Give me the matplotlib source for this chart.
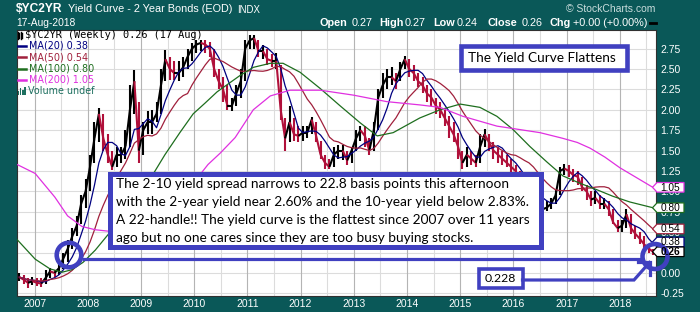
import numpy as np
import pandas as pd
import matplotlib
matplotlib.use("Agg")
import matplotlib.pyplot as plt
from matplotlib.collections import LineCollection
from matplotlib.patches import Rectangle, Circle, Polygon
from matplotlib.lines import Line2D

# ---------------- data ----------------
first_month = "2006-09"
yc2yr_close = [
    -0.05, -0.08, -0.12, -0.10,                                                   # 2006 Sep-Dec
    -0.12, -0.13, -0.06, 0.02, 0.00, 0.06, 0.18, 0.30, 0.45, 0.58, 0.85, 1.00,    # 2007
    1.30, 1.65, 1.95, 1.65, 1.45, 1.30, 1.45, 1.45, 1.55, 2.00, 2.35, 1.50,       # 2008
    1.75, 1.85, 1.85, 1.95, 2.30, 2.62, 2.50, 2.45, 2.45, 2.52, 2.65, 2.75,       # 2009
    2.80, 2.82, 2.80, 2.75, 2.50, 2.35, 2.25, 2.05, 2.05, 2.20, 2.35, 2.75,       # 2010
    2.85, 2.88, 2.72, 2.72, 2.62, 2.60, 2.60, 2.00, 1.65, 1.85, 1.70, 1.68,       # 2011
    1.72, 1.72, 1.88, 1.68, 1.45, 1.35, 1.30, 1.45, 1.50, 1.50, 1.38, 1.50,       # 2012
    1.65, 1.75, 1.68, 1.50, 1.75, 2.15, 2.30, 2.40, 2.40, 2.35, 2.50, 2.62,       # 2013
    2.50, 2.45, 2.35, 2.30, 2.20, 2.15, 2.05, 2.00, 1.90, 1.80, 1.70, 1.55,       # 2014
    1.35, 1.45, 1.40, 1.35, 1.55, 1.70, 1.60, 1.50, 1.45, 1.40, 1.35, 1.30,       # 2015
    1.25, 1.10, 1.00, 1.00, 0.95, 0.90, 0.78, 0.80, 0.85, 0.95, 1.25, 1.28,       # 2016
    1.25, 1.20, 1.18, 1.05, 1.00, 0.90, 0.92, 0.85, 0.85, 0.78, 0.62, 0.55,       # 2017
    0.58, 0.72, 0.55, 0.48, 0.42, 0.35, 0.30, 0.26,                               # 2018 Jan-Aug
]
yc2yr_high = [
    0.00, -0.03, -0.06, -0.05,
    -0.06, -0.06, 0.04, 0.06, 0.04, 0.15, 0.25, 0.40, 0.55, 0.70, 0.95, 1.15,
    1.45, 1.85, 2.02, 1.95, 1.70, 1.50, 1.55, 1.55, 1.75, 2.30, 2.49, 2.10,
    1.85, 1.98, 2.00, 2.10, 2.50, 2.73, 2.65, 2.60, 2.60, 2.65, 2.75, 2.82,
    2.85, 2.85, 2.85, 2.83, 2.75, 2.50, 2.40, 2.30, 2.15, 2.30, 2.50, 2.85,
    2.92, 2.92, 2.85, 2.80, 2.75, 2.68, 2.70, 2.55, 1.90, 2.05, 1.90, 1.80,
    1.80, 1.80, 1.91, 1.85, 1.62, 1.45, 1.40, 1.55, 1.57, 1.57, 1.50, 1.55,
    1.75, 1.80, 1.80, 1.65, 1.85, 2.25, 2.45, 2.50, 2.52, 2.45, 2.58, 2.66,
    2.62, 2.55, 2.45, 2.40, 2.30, 2.25, 2.15, 2.10, 2.00, 1.92, 1.85, 1.72,
    1.50, 1.55, 1.50, 1.45, 1.70, 1.76, 1.70, 1.60, 1.55, 1.50, 1.45, 1.40,
    1.32, 1.25, 1.08, 1.10, 1.02, 1.00, 0.88, 0.88, 0.92, 1.02, 1.30, 1.33,
    1.32, 1.28, 1.25, 1.18, 1.08, 1.00, 1.00, 0.95, 0.92, 0.88, 0.78, 0.65,
    0.65, 0.78, 0.72, 0.58, 0.50, 0.45, 0.36, 0.30,
]
yc2yr_low = [
    -0.10, -0.14, -0.18, -0.15,
    -0.16, -0.17, -0.14, -0.06, -0.05, -0.02, 0.05, 0.14, 0.30, 0.45, 0.60, 0.80,
    1.00, 1.35, 1.60, 1.50, 1.35, 1.26, 1.30, 1.35, 1.40, 1.55, 1.95, 1.35,
    1.45, 1.70, 1.70, 1.85, 1.95, 2.35, 2.36, 2.36, 2.35, 2.40, 2.50, 2.60,
    2.70, 2.72, 2.70, 2.65, 2.40, 2.25, 2.10, 2.00, 1.98, 2.05, 2.15, 2.35,
    2.75, 2.75, 2.65, 2.62, 2.55, 2.52, 2.50, 1.88, 1.50, 1.60, 1.62, 1.60,
    1.62, 1.65, 1.70, 1.60, 1.40, 1.28, 1.27, 1.30, 1.40, 1.38, 1.32, 1.35,
    1.50, 1.62, 1.55, 1.45, 1.50, 1.75, 2.15, 2.25, 2.30, 2.25, 2.35, 2.50,
    2.40, 2.35, 2.28, 2.20, 2.10, 2.05, 1.95, 1.90, 1.80, 1.65, 1.60, 1.40,
    1.28, 1.30, 1.32, 1.30, 1.35, 1.55, 1.50, 1.40, 1.35, 1.32, 1.30, 1.22,
    1.15, 0.98, 0.92, 0.94, 0.88, 0.80, 0.75, 0.76, 0.78, 0.85, 0.95, 1.20,
    1.18, 1.12, 1.08, 1.00, 0.90, 0.82, 0.85, 0.78, 0.78, 0.70, 0.60, 0.50,
    0.50, 0.55, 0.48, 0.42, 0.35, 0.30, 0.24, 0.22,
]

ma100_time = [2006.67, 2007.01, 2007.29, 2007.52, 2007.70, 2007.91, 2008.14, 2008.38,
              2008.61, 2008.89, 2009.17, 2009.45, 2009.73, 2009.98, 2010.20, 2010.43,
              2010.86, 2011.11, 2011.43, 2011.67, 2011.99, 2012.37, 2012.74, 2013.12,
              2013.44, 2013.74, 2014.24, 2014.62, 2015.00, 2015.37, 2015.69, 2015.99,
              2016.31, 2016.63, 2016.93, 2017.25, 2017.57, 2017.87, 2018.19, 2018.62]
ma100_value = [0.41, 0.17, 0.05, 0.01, 0.04, 0.13, 0.28, 0.47,
               0.66, 0.90, 1.15, 1.45, 1.72, 1.95, 2.08, 2.22,
               2.42, 2.52, 2.57, 2.57, 2.46, 2.26, 2.05, 1.84,
               1.68, 1.72, 1.90, 2.00, 2.07, 2.03, 1.92, 1.76,
               1.55, 1.36, 1.19, 1.10, 1.02, 0.94, 0.87, 0.80]

ma200_time = [2006.67, 2007.01, 2007.38, 2007.62, 2007.89, 2008.14, 2008.42, 2008.79,
              2009.17, 2009.55, 2009.92, 2010.26, 2010.49, 2010.77, 2011.11, 2011.43,
              2011.80, 2012.37, 2012.99, 2013.62, 2014.24, 2014.62, 2015.05, 2015.69,
              2016.50, 2016.93, 2017.20, 2017.44, 2017.72, 2018.00, 2018.62]
ma200_value = [1.33, 1.22, 0.93, 0.70, 0.57, 0.53, 0.51, 0.53,
               0.62, 0.82, 1.05, 1.33, 1.47, 1.66, 2.00, 2.17,
               2.24, 2.24, 2.18, 2.10, 2.06, 2.03, 1.92, 1.80,
               1.72, 1.65, 1.60, 1.53, 1.42, 1.29, 1.05]

legend_names = ["MA(20)", "MA(50)", "MA(100)", "MA(200)"]
legend_values = [0.38, 0.54, 0.80, 1.05]
last_close = 0.26
year_ticks = list(range(2007, 2019))
price_ticks = [-0.25, 0.00, 0.25, 0.50, 0.75, 1.00, 1.25, 1.50, 1.75, 2.00, 2.25, 2.50, 2.75]
spread_value = "0.228"

# ---------------- styling ----------------
W, H = 700, 312
TEAL = "#0a5858"
BLUE = "#4040c0"
C_UP, C_DN = "#000000", "#b0103a"
C_MA = ["#000080", "#a0203c", "#1e6e1e", "#e030e0"]

fig = plt.figure(figsize=(W / 100, H / 100), dpi=100, facecolor=TEAL)

L, R, T, B = 17, 656, 30, 296
ax = fig.add_axes([L / W, 1 - B / H, (R - L) / W, (B - T) / H])
ax.set_facecolor("white")
ax.set_xlim(2006.669, 2018.680)
ax.set_ylim(-0.282, 2.978)

# grid
for yv in price_ticks:
    ax.axhline(yv, color="#dcdcdc", lw=0.8, zorder=0)
for yr in range(2007, 2019):
    ax.axvline(yr, color="#b4b4b4", lw=0.8, zorder=0)
    ax.axvline(yr + 0.5, color="#dcdcdc", lw=0.8, zorder=0)

# price series (monthly high-low bars + close path, coloured up/down)
months = pd.period_range(first_month, periods=len(yc2yr_close), freq="M")
t_dec = np.array([p.year + (p.month - 0.5) / 12 for p in months])
close = np.array(yc2yr_close)
hi = np.array(yc2yr_high)
lo = np.array(yc2yr_low)
up = np.r_[True, close[1:] >= close[:-1]]
bar_cols = [C_UP if u else C_DN for u in up]
ax.vlines(t_dec, lo, hi, colors=bar_cols, lw=1.5, zorder=3)
pts = np.column_stack([t_dec, close])
segs = np.stack([pts[:-1], pts[1:]], axis=1)
ax.add_collection(LineCollection(segs, colors=bar_cols[1:], linewidths=1.5, zorder=3))

# moving averages: 20 & 50 weeks from the closes, 100 & 200
s = pd.Series(close, index=months.to_timestamp() + pd.Timedelta(days=14))
ma20 = s.rolling("140D", min_periods=1).mean()
ma50 = s.rolling("350D", min_periods=1).mean()
ax.plot(t_dec, ma20.values, color=C_MA[0], lw=0.9, zorder=4)
ax.plot(t_dec, ma50.values, color=C_MA[1], lw=0.9, zorder=4)
ax.plot(ma100_time, ma100_value, color=C_MA[2], lw=0.9, zorder=4)
ax.plot(ma200_time, ma200_value, color=C_MA[3], lw=0.9, zorder=4)

# axes ticks
ax.yaxis.tick_right()
ax.set_yticks(price_ticks)
ax.set_yticklabels([f"{v:.2f}" for v in price_ticks])
ax.set_xticks(year_ticks)
ax.set_xticklabels([str(y) for y in year_ticks])
ax.tick_params(axis="both", length=0, colors="white", labelsize=7.5)
ax.tick_params(axis="y", pad=3)
ax.tick_params(axis="x", pad=2.5)
for lab in ax.get_xticklabels() + ax.get_yticklabels():
    lab.set_fontfamily("Liberation Sans")
for sp in ax.spines.values():
    sp.set_color("#303030")
    sp.set_linewidth(0.8)

# ---------------- overlay in pixel coordinates ----------------
ov = fig.add_axes([0, 0, 1, 1], zorder=10)
ov.set_xlim(0, W)
ov.set_ylim(H, 0)
ov.axis("off")
ov.patch.set_alpha(0)
rend = fig.canvas.get_renderer()


def fit(txt, width_px):
    txt.set_fontsize(txt.get_fontsize() * width_px / txt.get_window_extent(rend).width)
    return txt


hdr = dict(color="white", family="Liberation Sans", va="center")
fit(ov.text(16, 9, "$YC2YR", fontsize=10.5, fontweight="bold", **hdr), 47)
fit(ov.text(68, 9.5, "Yield Curve - 2 Year Bonds (EOD)", fontsize=8.6, **hdr), 163)
fit(ov.text(237, 10, "INDX", fontsize=7.2, **hdr), 23)
fit(ov.text(16, 23, "17-Aug-2018", fontsize=8, **hdr), 60)
ov.text(655, 8.5, "\u00a9 StockCharts.com", fontsize=7.5, color="#c8dcdc",
        family="Liberation Sans", ha="right", va="center")
pieces = [("Open", 320, True), ("0.27", 352, False), ("High", 379, True), ("0.27", 405, False),
          ("Low", 433, True), ("0.24", 457, False), ("Close", 487, True), ("0.26", 522, False),
          ("Chg", 549, True), ("+0.00 (+0.00%)", 573, False)]
for txt, x, bold in pieces:
    ov.text(x, 23, txt, fontsize=7.8, fontweight="bold" if bold else "normal", **hdr)
ov.add_line(Line2D([650, 656], [23, 23], color="black", lw=2))

# in-chart legend
ov.text(25, 35, "$YC2YR (Weekly) 0.26 (17 Aug)", fontsize=7.4, family="DejaVu Sans Mono",
        color="black", va="center")
for k, xx in enumerate([17.5, 19, 20.5, 22]):
    ov.add_line(Line2D([xx, xx], [31.5 + (k % 2), 38.5 - (k % 2)], color="black", lw=1))
for i, (nm, val) in enumerate(zip(legend_names, legend_values)):
    yy = 46 + 11.3 * i
    ov.add_line(Line2D([18, 26], [yy, yy], color=C_MA[i], lw=1.8))
    ov.text(29, yy, f"{nm} {val:.2f}", fontsize=6.9, color=C_MA[i], va="center")
yy = 91
for k, hgt in enumerate([4, 7, 5, 8]):
    ov.add_patch(Rectangle((17.5 + 2.2 * k, yy + 4 - hgt), 1.6, hgt, color="#1e7060", lw=0))
ov.text(27.5, yy, "Volume undef", fontsize=6.9, color="#1e7060", va="center")


# value tags on the right axis
def data_to_px_y(v):
    return H - ax.transData.transform((ax.get_xlim()[0], v))[1]


def tag(v, ec, bold=False):
    yp = data_to_px_y(v)
    h = 9.6
    poly = Polygon([(652.5, yp), (657, yp - h / 2), (684, yp - h / 2), (684, yp + h / 2),
                    (657, yp + h / 2)], closed=True, fc="white", ec=ec, lw=0.9)
    ov.add_patch(poly)
    ov.text(670.5, yp + 0.3, f"{v:.2f}", fontsize=7.3, family="Liberation Sans",
            fontweight="bold" if bold else "normal", ha="center", va="center", color="black")


for v, c in zip(legend_values[::-1], C_MA[::-1]):
    tag(v, c)
tag(last_close, "black", bold=True)

# ---------------- annotations ----------------
ov.add_line(Line2D([82, 641], [258.5, 258.5], color=BLUE, lw=2.3, solid_capstyle="butt"))
ov.add_patch(Circle((69, 255), 12.3, fill=False, ec=BLUE, lw=3.3))
ov.add_patch(Circle((655, 256.5), 12.5, fill=False, ec=BLUE, lw=3.3))

ov.add_patch(Rectangle((478.5, 268.5), 44, 19, fc="white", ec=BLUE, lw=2.6))
ov.text(500.5, 278.5, spread_value, fontsize=8.8, family="Lato", ha="center", va="center",
        color="black")
ov.add_line(Line2D([522.5, 634, 649.5], [280, 280, 262.5], color=BLUE, lw=2.3,
                   solid_joinstyle="miter"))
ov.add_line(Line2D([637.5, 650, 650], [262, 262, 275], color=BLUE, lw=2.3,
                   solid_joinstyle="miter"))

ov.add_patch(Rectangle((461, 46), 166, 24, fc="white", ec=BLUE, lw=3.3))
fit(ov.text(468, 58.5, "The Yield Curve Flattens", fontsize=9.5, family="Lato",
            va="center", color="black"), 149)

ov.add_patch(Rectangle((109.5, 174), 431, 73, fc="white", ec=BLUE, lw=3.6))
lines = ["The 2-10 yield spread narrows to 22.8 basis points this afternoon",
         "with the 2-year yield near 2.60% and the 10-year yield below 2.83%.",
         "A 22-handle!! The yield curve is the flattest since 2007 over 11 years",
         "ago but no one cares since they are too busy buying stocks."]
objs = [ov.text(116.5, 184.5 + 18 * i, ln, fontsize=10, family="Lato", va="center",
                color="black") for i, ln in enumerate(lines)]
scale = 393 / objs[0].get_window_extent(rend).width
for o in objs:
    o.set_fontsize(10 * scale)

fig.savefig("out.png", dpi=100, facecolor=TEAL)
